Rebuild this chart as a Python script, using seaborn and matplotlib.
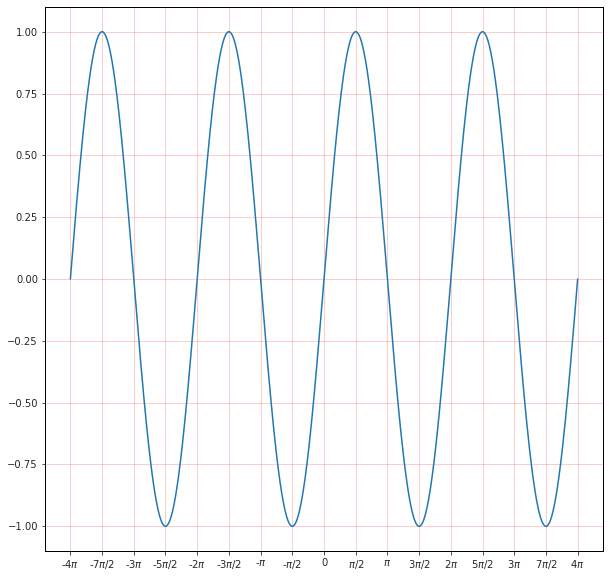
import numpy as np
import pandas as pd
import matplotlib
matplotlib.use('Agg')
import matplotlib.pyplot as plt
import seaborn as sns

# curve: y = amplitude * sin(x) over [-4pi, 4pi]
x_start = -4 * np.pi
x_end = 4 * np.pi
amplitude = 1.0
n_points = 1000

tick_steps = list(range(-8, 9))  # multiples of pi/2
tick_labels = ['-4$\\pi$', '-7$\\pi$/2', '-3$\\pi$', '-5$\\pi$/2', '-2$\\pi$', '-3$\\pi$/2',
               '-$\\pi$', '-$\\pi$/2', '0', '$\\pi$/2', '$\\pi$', '3$\\pi$/2', '2$\\pi$',
               '5$\\pi$/2', '3$\\pi$', '7$\\pi$/2', '4$\\pi$']
y_ticks = [-1, -0.75, -0.5, -0.25, 0, 0.25, 0.5, 0.75, 1]

x = np.linspace(x_start, x_end, n_points)
df = pd.DataFrame({'x': x, 'y': amplitude * np.sin(x)})

sns.set_style('ticks')
fig = plt.figure(figsize=(610 / 72, 578 / 72), dpi=72)
ax = fig.add_axes([45 / 610, 27 / 578, 558 / 610, 544 / 578])

sns.lineplot(data=df, x='x', y='y', ax=ax, color='#1f77b4', linewidth=1.5)

ax.set_xticks([k * np.pi / 2 for k in tick_steps])
ax.set_xticklabels(tick_labels)
ax.set_yticks(y_ticks)
ax.grid(True, color='red', alpha=0.25)
ax.set_xlabel('')
ax.set_ylabel('')
ax.tick_params(labelsize=10)
for s in ax.spines.values():
    s.set_color('black')
    s.set_linewidth(1)

fig.savefig('out.png', dpi=72)
